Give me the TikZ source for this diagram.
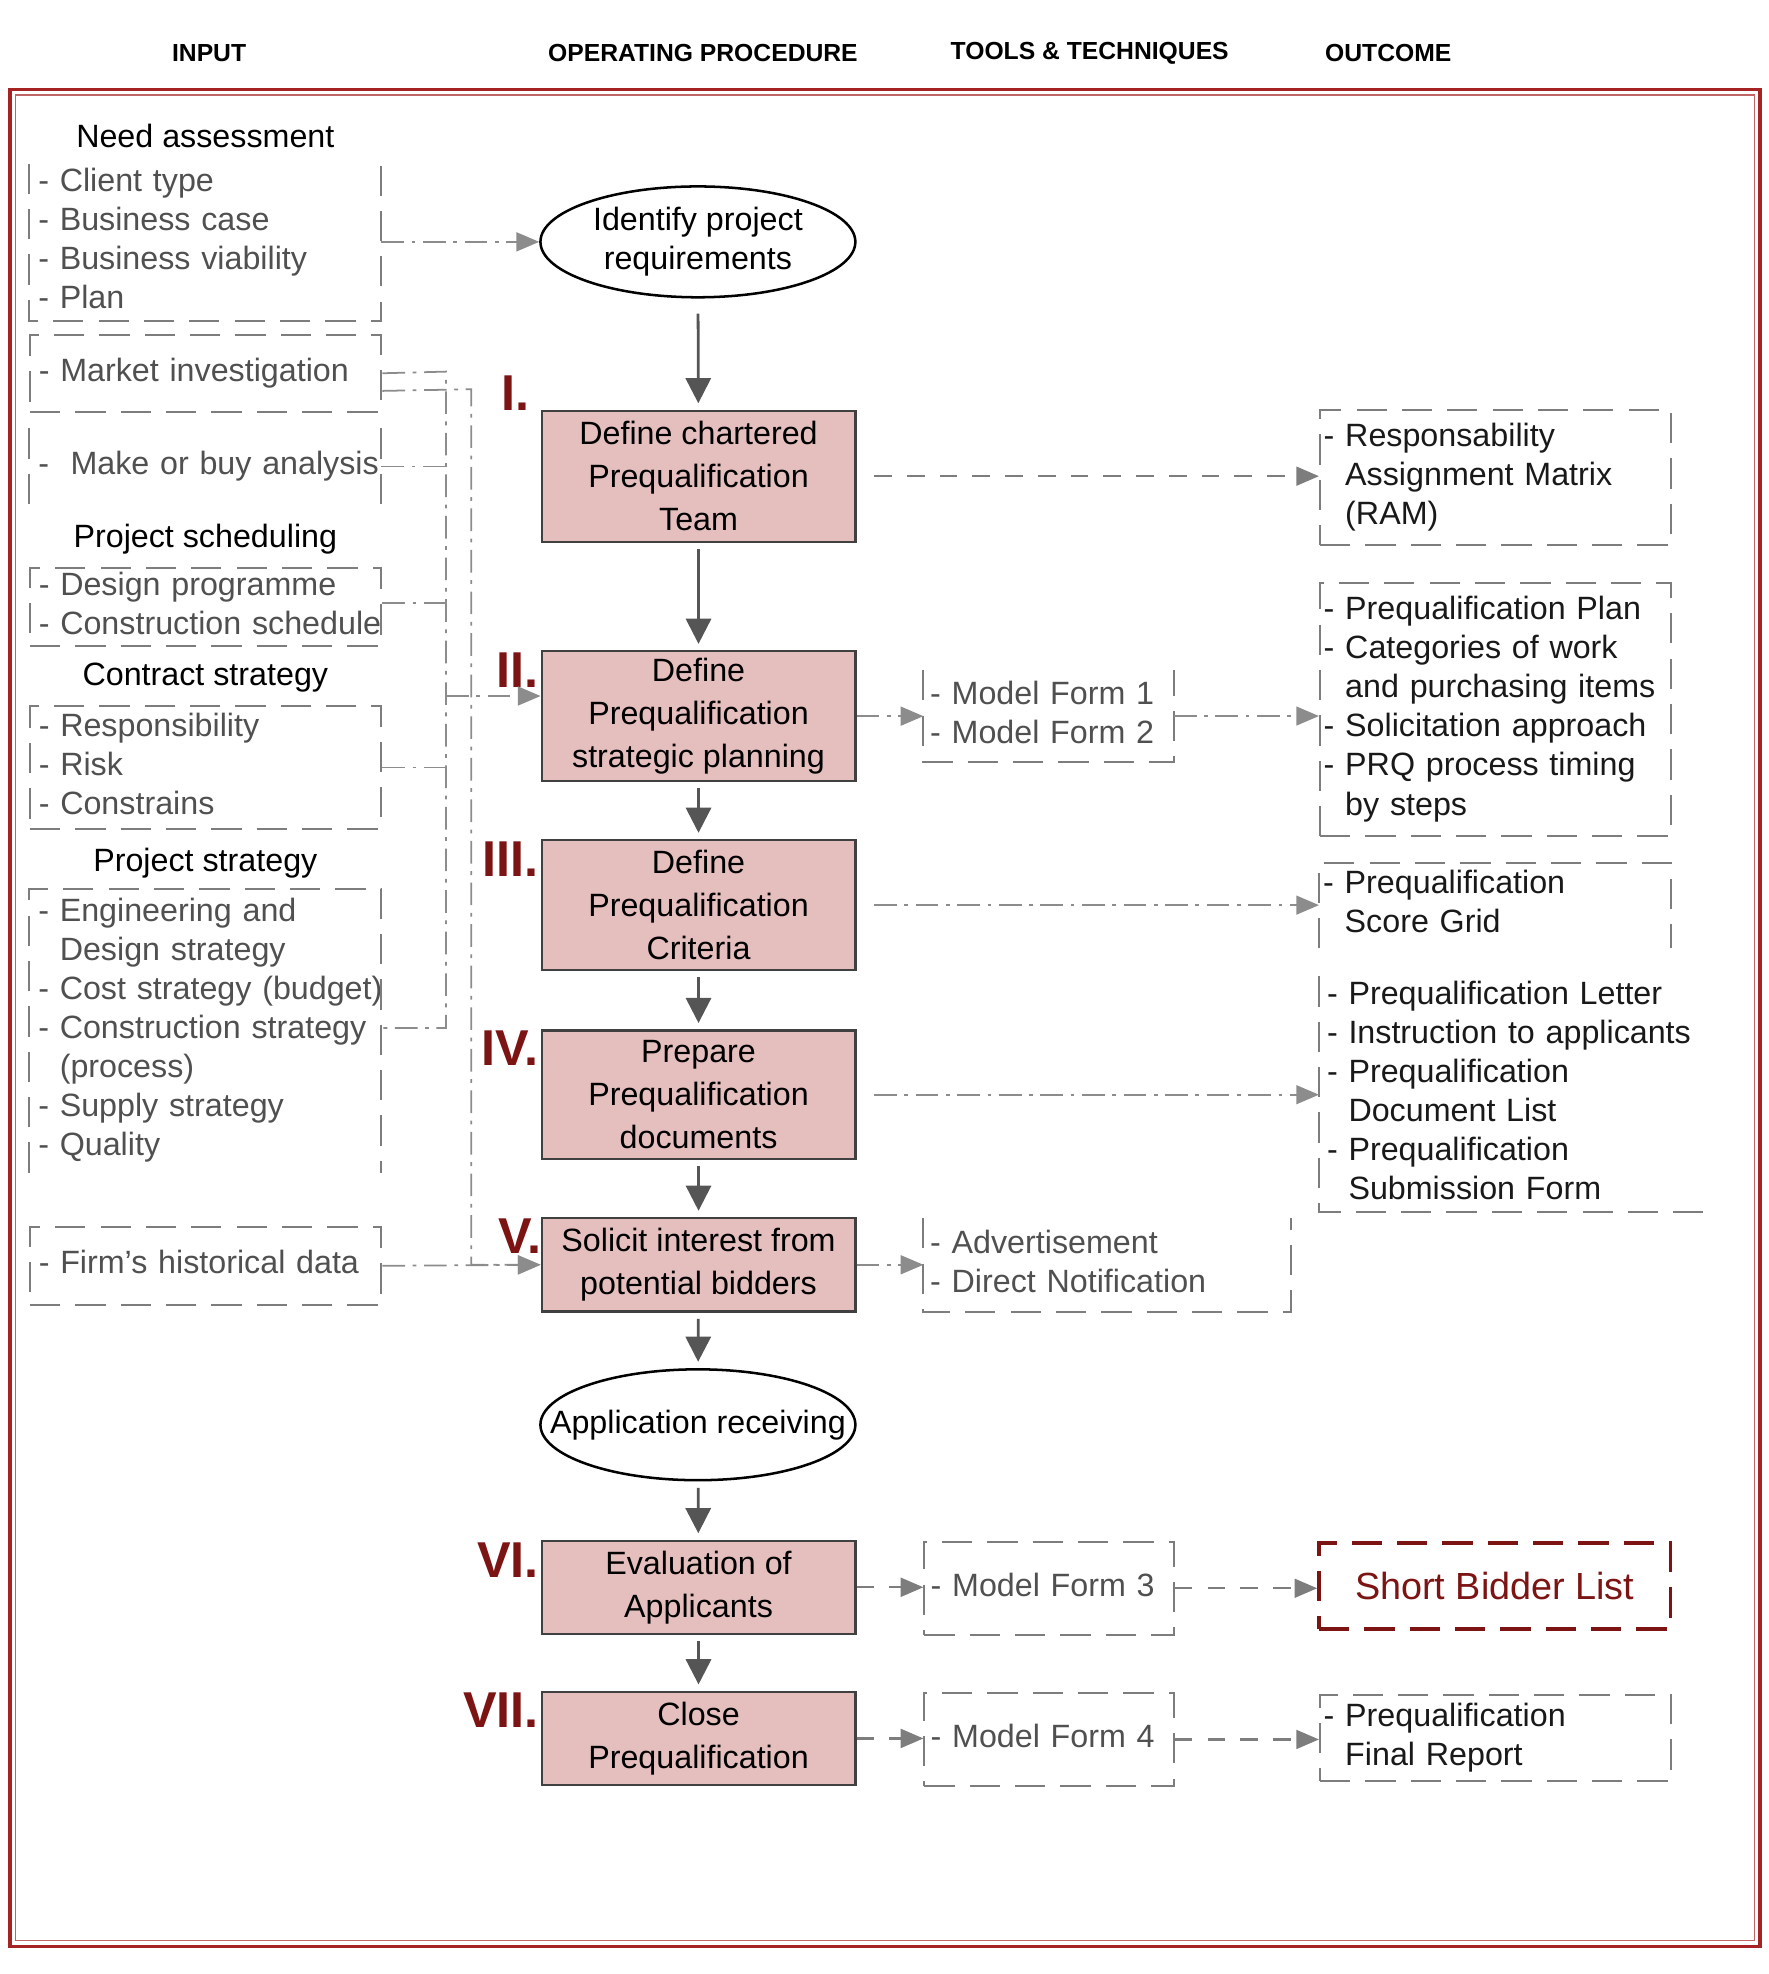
\documentclass[tikz,border=0pt]{standalone}
\usepackage{fontspec}
\setmainfont{Liberation Sans}
\usetikzlibrary{arrows.meta,shapes.geometric}
\definecolor{boxfill}{RGB}{229,190,190}
\definecolor{numred}{RGB}{125,20,20}
\definecolor{framered}{RGB}{165,35,35}
\definecolor{linegray}{RGB}{125,125,125}
\definecolor{ddgray}{RGB}{140,140,140}
\definecolor{txtgray}{RGB}{80,80,80}
\definecolor{flowgray}{RGB}{85,85,85}
\newcommand\lst[1]{\noindent\begin{tabular}{@{}l@{}}#1\end{tabular}}
\newcommand\ind{\phantom{- }}
\begin{document}
\begin{tikzpicture}[x=0.5pt,y=-0.5pt,
  tf/.style={font=\fontsize{12.8}{15.5}\selectfont},
  ibox/.style={tf, text width=132.5pt, inner xsep=3.5pt, inner ysep=0pt, minimum width=139.5pt, anchor=north west, text=txtgray},
  tbox/.style={tf, inner xsep=2.5pt, inner ysep=0pt, anchor=north west, text=txtgray},
  obox/.style={tf, text width=136.5pt, inner xsep=1.5pt, inner ysep=0pt, minimum width=139.5pt, anchor=north west, text=black!90},
  bx/.style={draw=linegray, line width=0.8pt, dash pattern=on 12pt off 6pt},
  ttl/.style={font=\fontsize{12.8}{15.5}\selectfont, text=black, inner sep=0pt},
  hdr/.style={font=\bfseries\fontsize{9.8}{12}\selectfont, inner sep=0pt},
  proc/.style={draw=black!75, line width=0.9pt, fill=boxfill, minimum width=124.5pt, align=center, font=\fontsize{12.8}{17}\selectfont, inner sep=0pt},
  ell/.style={ellipse, draw=black, line width=1pt, minimum width=125pt, minimum height=44pt, inner sep=0pt, align=center, font=\fontsize{12.8}{15.5}\selectfont},
  num/.style={text=numred, font=\bfseries\fontsize{20}{20}\selectfont, inner sep=0pt},
  flow/.style={draw=flowgray, line width=1.1pt, -{Triangle[length=10pt,width=10pt]}, shorten <=2.5pt, shorten >=2.5pt},
  dd/.style={draw=ddgray, line width=0.7pt, dash pattern=on 9pt off 3pt on 1.5pt off 3pt},
  ddarr/.style={dd, -{Triangle[length=9pt,width=7.5pt]}},
  dsh/.style={draw=linegray, line width=0.9pt, dash pattern=on 7pt off 6pt, -{Triangle[length=9pt,width=7.5pt]}}
]
\useasboundingbox (0,0) rectangle (1404,1567);

% frame
\draw[framered, line width=1.3pt] (8,71) rectangle (1397,1545);
\draw[framered!70, line width=0.5pt] (12.5,75.5) rectangle (1392.5,1540.5);

% headers
\node[hdr] (hin) at (166,42) {INPUT};
\node[hdr] (hop) at (558,42) {OPERATING PROCEDURE};
\node[hdr] (htt) at (865,42) {TOOLS \& TECHNIQUES};
\node[hdr] (hout) at (1102,42) {OUTCOME};

% input column
\node[ttl] (t1) at (163,108) {Need assessment};
\node[ibox, minimum height=61pt] (need) at (23,130) {\lst{- Client type\\- Business case\\- Business viability\\- Plan}};
\draw[bx] (need.north west) -- (need.south west) -- (need.south east) -- (need.north east);
\node[ibox, bx, minimum height=30.5pt] (mkt) at (23,265) {\lst{- Market investigation}};
\node[ibox, minimum height=30pt] (mob) at (23,340) {\lst{- \ Make or buy analysis}};
\draw[bx] (mob.north west) -- (mob.south west);
\draw[bx] (mob.north east) -- (mob.south east);
\node[ttl] (t2) at (163,428) {Project scheduling};
\node[ibox, bx, minimum height=31pt] (sched) at (23,450) {\lst{- Design programme\\- Construction schedule}};
\node[ttl] (t3) at (163,538) {Contract strategy};
\node[ibox, bx, minimum height=48.5pt] (cs) at (23,560) {\lst{- Responsibility\\- Risk\\- Constrains}};
\node[ttl] (t4) at (163,685) {Project strategy};
\node[ibox, minimum height=112pt] (ps) at (23,706) {\lst{- Engineering and\\\ind Design strategy\\- Cost strategy (budget)\\- Construction strategy\\\ind (process)\\- Supply strategy\\- Quality}};
\draw[bx] (ps.south west) -- (ps.north west) -- (ps.north east) -- (ps.south east);
\node[ibox, bx, minimum height=31pt] (firm) at (23,973) {\lst{- Firm's historical data}};

% procedure column
\node[ell] (ident) at (554,192) {Identify project\\requirements};
\node[proc, minimum height=52pt] (I) at (554.5,378) {Define chartered\\Prequalification\\Team};
\node[proc, minimum height=51.5pt] (II) at (554.5,568.5) {Define\\Prequalification\\strategic planning};
\node[proc, minimum height=51.5pt] (III) at (554.5,718.5) {Define\\Prequalification\\Criteria};
\node[proc, minimum height=51pt] (IV) at (554.5,869) {Prepare\\Prequalification\\documents};
\node[proc, minimum height=37pt] (V) at (554.5,1004) {Solicit interest from\\potential bidders};
\node[ell] (appl) at (554,1131) {\makebox[0pt]{Application receiving}};
\node[proc, minimum height=37pt] (VI) at (554.5,1260) {Evaluation of\\Applicants};
\node[proc, minimum height=37pt] (VII) at (554.5,1380) {Close\\Prequalification};

\node[num, anchor=south east] (nI) at (421,326) {I.};
\node[num, anchor=north east] (nII) at (428,518) {II.};
\node[num, anchor=north east] (nIII) at (428,668) {III.};
\node[num, anchor=north east] (nIV) at (428,818) {IV.};
\node[num, anchor=north east] (nV) at (430,967) {V.};
\node[num, anchor=north east] (nVI) at (428,1224) {VI.};
\node[num, anchor=north east] (nVII) at (428,1343) {VII.};

% tools column
\node[tbox, text width=94pt, minimum height=36pt] (mf) at (733,532) {\lst{- Model Form 1\\- Model Form 2}};
\draw[bx] (mf.north west) -- (mf.south west) -- (mf.south east) -- (mf.north east);
\node[tbox, text width=140.5pt, minimum height=37pt] (adv) at (733,967) {\lst{- Advertisement\\- Direct Notification}};
\draw[bx] (adv.north west) -- (adv.south west) -- (adv.south east) -- (adv.north east);
\node[tbox, bx, text width=94pt, minimum height=37pt] (mf3) at (733,1223) {\lst{- Model Form 3}};
\node[tbox, bx, text width=94pt, minimum height=37pt] (mf4) at (733,1343) {\lst{- Model Form 4}};

% outcome column
\node[obox, bx, minimum height=53.5pt] (ram) at (1047,325) {\lst{- Responsability\\\ind Assignment Matrix\\\ind (RAM)}};
\node[obox, bx, minimum height=100.5pt] (pq) at (1047,462) {\lst{- Prequalification Plan\\- Categories of work\\\ind and purchasing items\\- Solicitation approach\\- PRQ process timing\\\ind by steps}};
\node[obox, minimum height=33.5pt] (score) at (1047,685) {\lst{- Prequalification\\\ind Score Grid}};
\draw[bx] (score.south west) -- (score.north west) -- (score.north east) -- (score.south east);
\node[obox, inner xsep=3pt, text width=146.5pt, minimum width=152.5pt, minimum height=92.5pt] (letter) at (1047,775) {\lst{- Prequalification Letter\\- Instruction to applicants\\- Prequalification\\\ind Document List\\- Prequalification\\\ind Submission Form}};
\draw[bx] (letter.north west) -- (letter.south west) -- (letter.south east);
\node[draw=numred, line width=1.4pt, dash pattern=on 12pt off 6pt, minimum width=139.5pt, minimum height=34pt, inner sep=0pt, text=numred, font=\fontsize{15}{18}\selectfont] (sbl) at (1186.5,1259) {Short Bidder List};
\node[obox, bx, minimum height=34pt] (fr) at (1047,1345) {\lst{- Prequalification\\\ind Final Report}};

% flow arrows
\draw[flow, shorten <=6pt] (ident) -- (I);
\draw[flow] (I) -- (II);
\draw[flow] (II) -- (III);
\draw[flow] (III) -- (IV);
\draw[flow] (IV) -- (V);
\draw[flow] (V) -- (appl);
\draw[flow] (appl) -- (VI);
\draw[flow] (VI) -- (VII);

% input connectors
\coordinate (b1t) at (354,295);
\coordinate (b1b) at (354,816);
\coordinate (b2t) at (374,309);
\coordinate (IIin) at ([yshift=8pt]II.west);
\draw[ddarr] (ident.west -| need.east) -- (ident.west);
\draw[dd] (mkt.east) -- (b1t) -- (b1b) -- (b1b -| ps.east);
\draw[ddarr] ([yshift=-7pt]mkt.east) -- (b2t) |- (V.west);
\draw[dd] (mob.east) -- (mob.east -| b1t);
\draw[dd] ([yshift=1.5pt]sched.east) -- ([yshift=1.5pt]sched.east -| b1t);
\draw[dd] (cs.east) -- (cs.east -| b1t);
\draw[ddarr] (IIin -| b1t) -- (IIin);
\draw[ddarr] (firm.east) -- (V.west);

% output connectors
\draw[dsh, shorten <=7pt] (I.east) -- (I.east -| ram.west);
\draw[ddarr] (II.east) -- (II.east -| mf.west);
\draw[ddarr] (mf.east) -- (mf.east -| pq.west);
\draw[ddarr, shorten <=7pt] (III.east) -- (III.east -| score.west);
\draw[ddarr, shorten <=7pt] (IV.east) -- (IV.east -| letter.west);
\draw[ddarr] (V.east) -- (V.east -| adv.west);
\draw[dsh] (VI.east) -- (VI.east -| mf3.west);
\draw[dsh] (mf3.east) -- (mf3.east -| sbl.west);
\draw[dsh] (VII.east) -- (VII.east -| mf4.west);
\draw[dsh] (mf4.east) -- (mf4.east -| fr.west);
\end{tikzpicture}
\end{document}
